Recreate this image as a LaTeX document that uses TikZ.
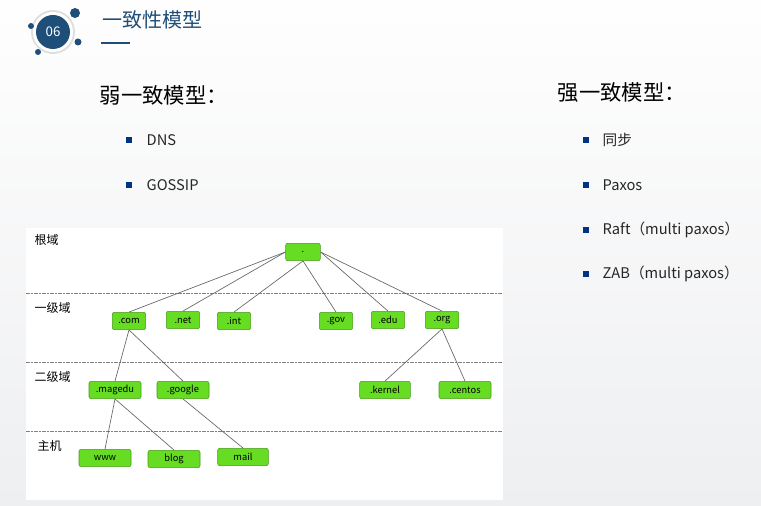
\documentclass[tikz,border=0pt]{standalone}
\usepackage{fontspec}
\setmainfont{Noto Sans CJK SC}
\setsansfont{Noto Sans CJK SC}
\begin{document}
\begin{tikzpicture}[x=0.75pt,y=-0.75pt,
  dom/.style={draw=green!45!black!60!green,fill=green!80!lime,rounded corners=1.5pt,minimum height=13pt,font=\fontsize{7}{8}\selectfont\sffamily,inner sep=1pt},
  lvl/.style={font=\fontsize{9}{10}\selectfont,anchor=west},
  edge/.style={draw=gray!80!black,line width=0.5pt},
  bul/.style={fill=blue!40!black!80!cyan,minimum size=5pt,inner sep=0pt},
  item/.style={font=\fontsize{11}{13}\selectfont,anchor=west,text=black!85}]
\definecolor{navy}{HTML}{1F4E79}
\definecolor{bg}{HTML}{EEEFF1}
\definecolor{dom}{HTML}{66DD22}
\useasboundingbox (0,0) rectangle (761,506);
\shade[top color=white!95!bg,bottom color=bg] (0,0) rectangle (761,506);
% badge
\fill[gray!25] (53,32) circle (22);
\fill[white] (53,32) circle (20);
\fill[navy] (53,32) circle (17);
\node[text=white,font=\fontsize{10}{11}\selectfont] (badge) at (53,32) {06};
\fill[navy] (31,26) circle (3);
\fill[navy] (75,13) circle (5);
\fill[navy] (78,42) circle (3.5);
\fill[navy] (38,52) circle (3);
\node[text=navy,font=\fontsize{15}{17}\selectfont,anchor=west] (title) at (98,20) {一致性模型};
\draw[navy,line width=1pt] (101,43) -- (130,43);
% lists
\node[font=\fontsize{16}{18}\selectfont,anchor=west] (weak) at (95,95) {弱一致模型：};
\node[bul] (b1) at (129,140) {}; \node[item] (t1) at (142,140) {DNS};
\node[bul] (b2) at (129,185) {}; \node[item] (t2) at (142,185) {GOSSIP};
\node[font=\fontsize{16}{18}\selectfont,anchor=west] (strong) at (553,92) {强一致模型：};
\node[bul] (c1) at (586,140) {}; \node[item] (s1) at (598,140) {同步};
\node[bul] (c2) at (586,185) {}; \node[item] (s2) at (598,185) {Paxos};
\node[bul] (c3) at (586,230) {}; \node[item] (s3) at (598,230) {Raft（multi paxos）};
\node[bul] (c4) at (586,274) {}; \node[item] (s4) at (598,274) {ZAB（multi paxos）};
% panel
\fill[white] (26,228) rectangle (503,500);
\foreach \yy in {293,362,431} \draw[gray,dash pattern=on 3pt off 1pt on 1pt off 1pt] (26,\yy) -- (503,\yy);
\node[lvl] (l0) at (30,240) {根域};
\node[lvl] (l1) at (30,308) {一级域};
\node[lvl] (l2) at (30,377) {二级域};
\node[lvl] (l3) at (33,446) {主机};
\tikzset{dom/.append style={fill=dom,draw=dom!70!black}}
\node[dom,minimum width=26pt] (root) at (303,252) {.};
\node[dom,minimum width=25pt] (com) at (129,321) {.com};
\node[dom,minimum width=25pt] (net) at (183,320) {.net};
\node[dom,minimum width=25pt] (int) at (234,321) {.int};
\node[dom,minimum width=25pt] (gov) at (336,321) {.gov};
\node[dom,minimum width=25pt] (edu) at (388,320) {.edu};
\node[dom,minimum width=25pt] (org) at (442,320) {.org};
\node[dom,minimum width=39pt] (magedu) at (115,390) {.magedu};
\node[dom,minimum width=39pt] (google) at (183,390) {.google};
\node[dom,minimum width=38pt] (kernel) at (385,390) {.kernel};
\node[dom,minimum width=39pt] (centos) at (465,390) {.centos};
\node[dom,minimum width=39pt] (www) at (105,458) {www};
\node[dom,minimum width=39pt] (blog) at (174,459) {blog};
\node[dom,minimum width=38pt] (mail) at (243,457) {mail};
\draw[edge] (root.west) -- (com.north);
\draw[edge] (root.west) -- (net.north);
\draw[edge] (root.south) -- (int.north);
\draw[edge] (root.south) -- (gov.north);
\draw[edge] (root.east) -- (edu.north);
\draw[edge] (root.east) -- (org.north);
\draw[edge] (com.south) -- (magedu.north);
\draw[edge] (com.south) -- (google.north);
\draw[edge] (org.south) -- (kernel.north);
\draw[edge] (org.south) -- (centos.north);
\draw[edge] (magedu.south) -- (www.north);
\draw[edge] (magedu.south) -- (blog.north);
\draw[edge] (google.south) -- (mail.north);
\end{tikzpicture}
\end{document}
